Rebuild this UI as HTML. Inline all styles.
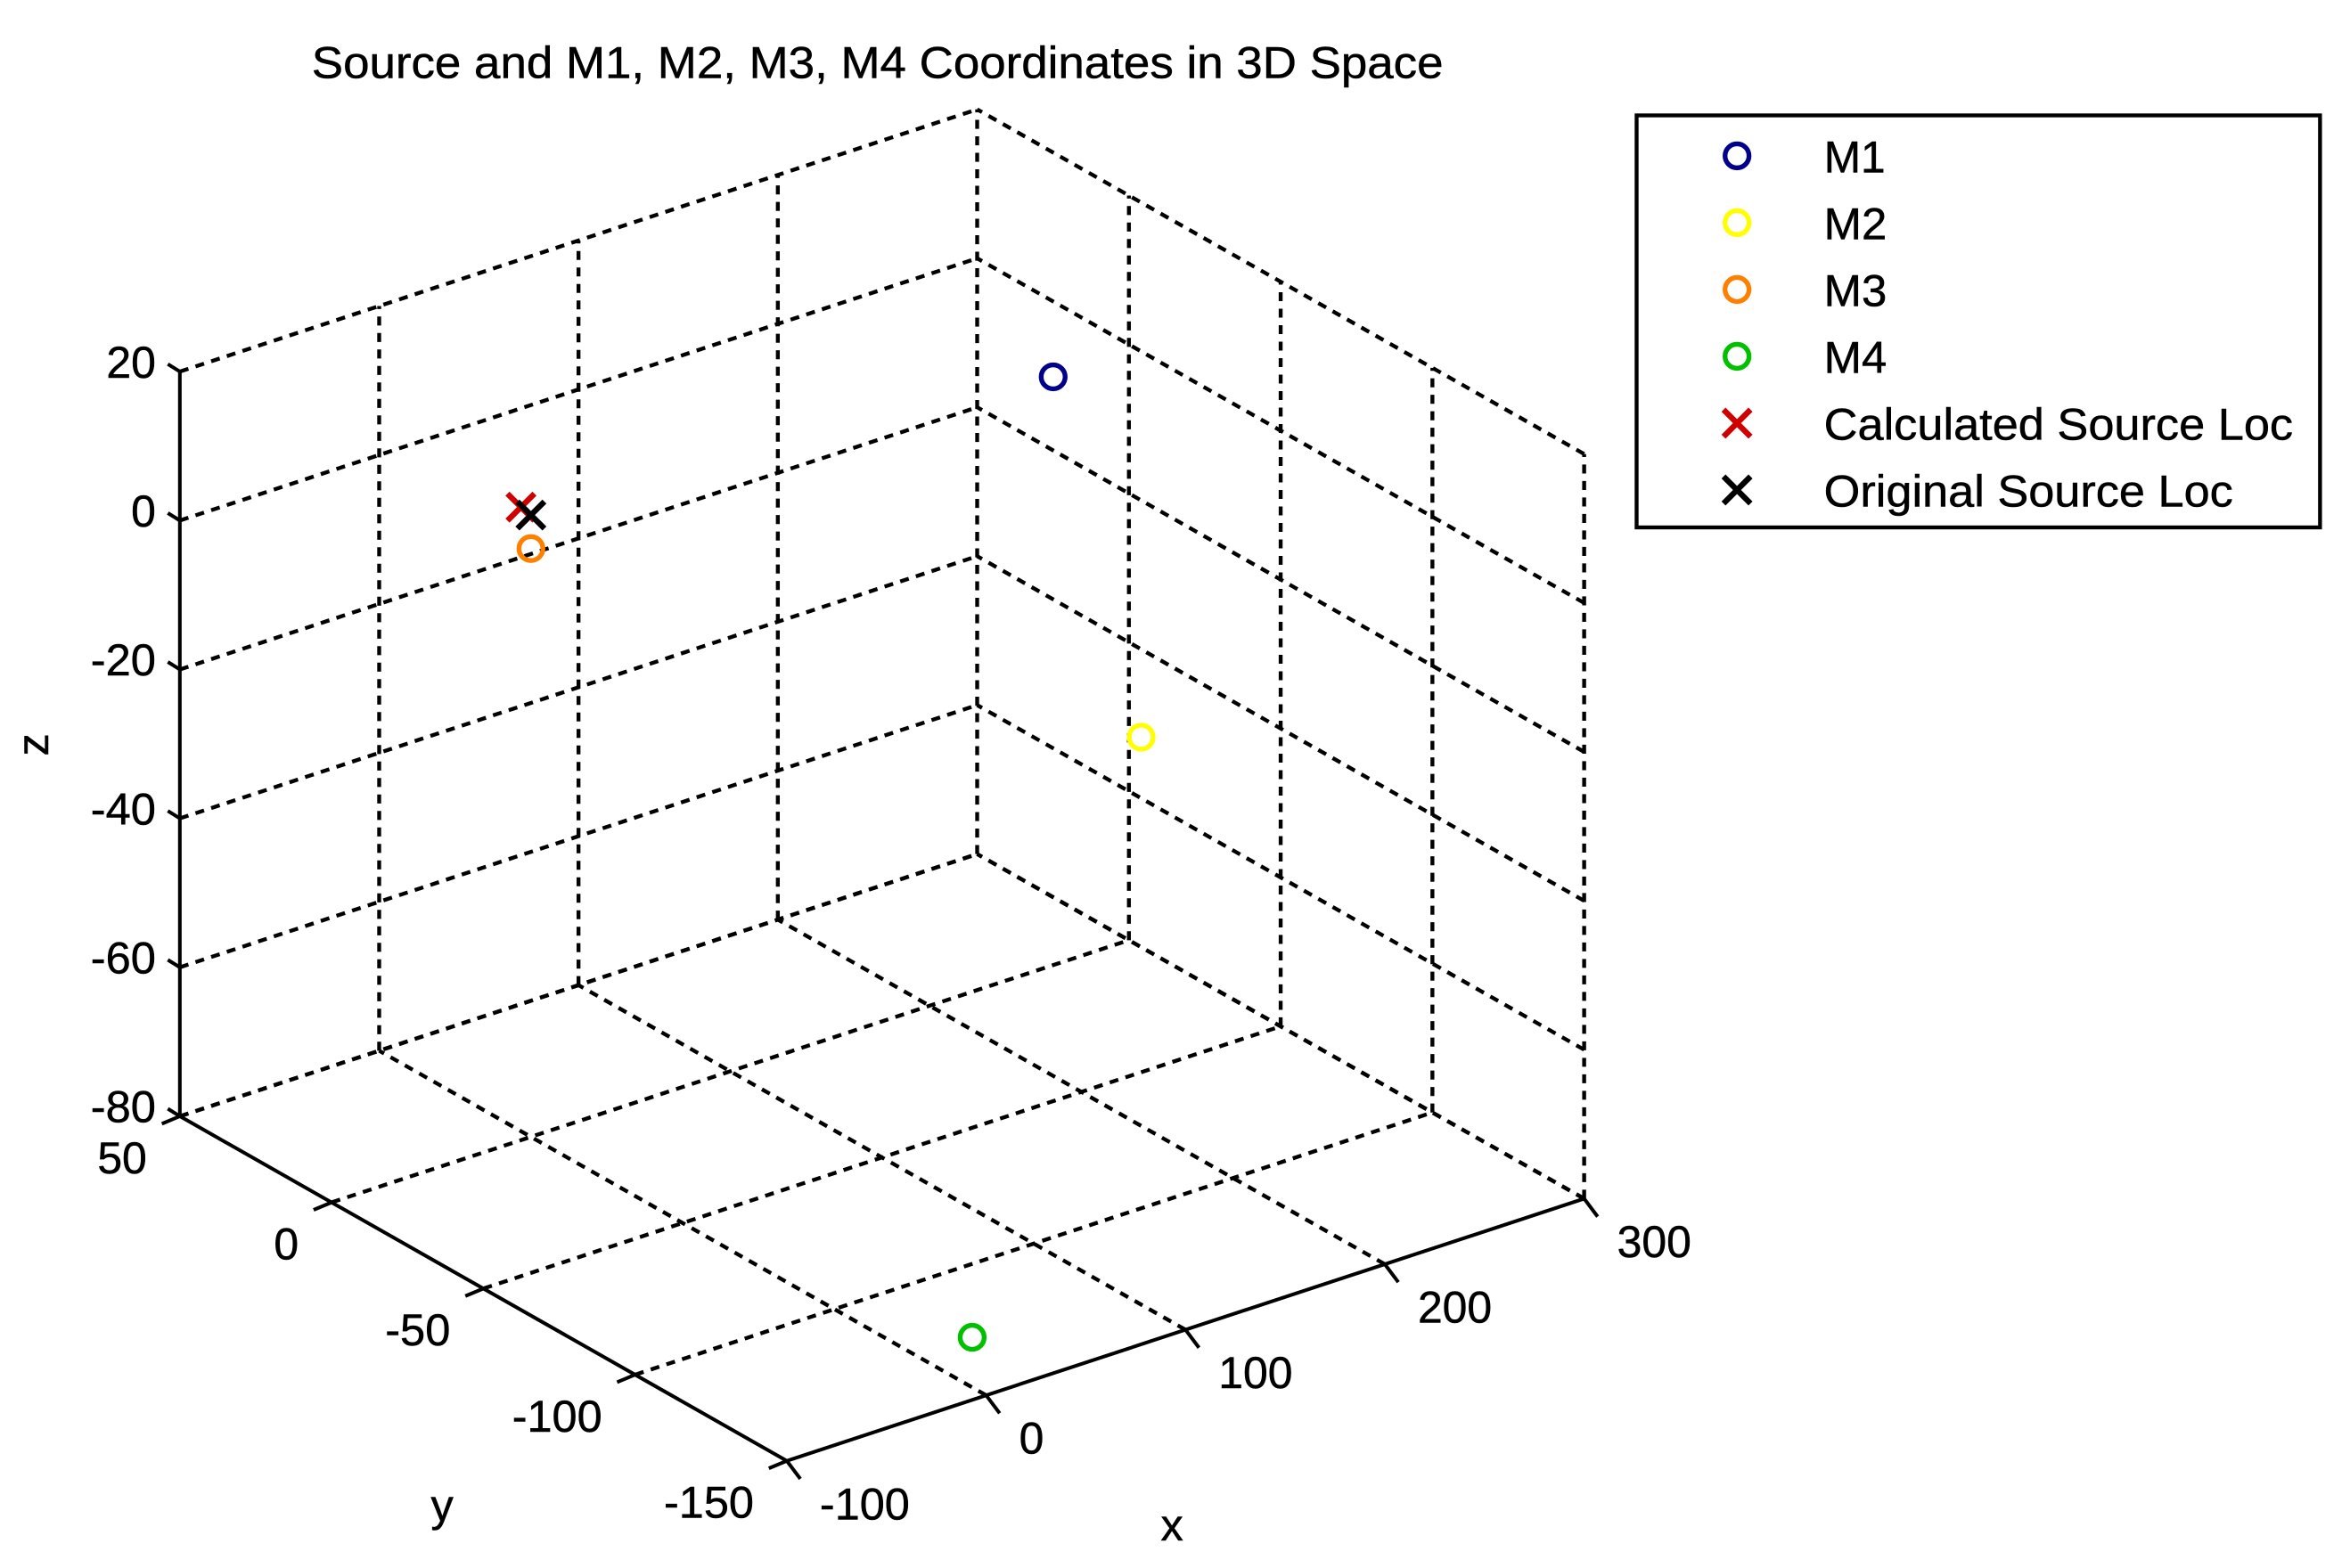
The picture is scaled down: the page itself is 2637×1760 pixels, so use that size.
<!DOCTYPE html>
<html><head><meta charset="utf-8"><title>Source and M1, M2, M3, M4 Coordinates in 3D Space</title>
<style>html,body{margin:0;padding:0;background:#fff;}svg{display:block;}
text{font-family:"Liberation Sans Narrow","Liberation Sans",sans-serif;fill:#000;stroke:#000;stroke-width:0.3;}</style></head>
<body>
<svg id="chart" width="2637" height="1760" viewBox="0 0 1568 1046.5" xmlns="http://www.w3.org/2000/svg">
<rect width="1568" height="1046.5" fill="#fff"/>
<g id="grid"></g>
<g id="axes"></g>
<g id="marks"></g>
<text x="208" y="52" font-size="30" textLength="755" lengthAdjust="spacingAndGlyphs">Source and M1, M2, M3, M4 Coordinates in 3D Space</text>
<text x="0" y="0" font-size="30" text-anchor="middle" transform="translate(32,497) rotate(-90)">z</text>
<text x="295" y="1015" font-size="30" text-anchor="middle">y</text>
<text x="782" y="1028" font-size="30" text-anchor="middle">x</text>
<g id="legend"></g>
</svg>
<script>
const xTicks=[-100,0,100,200,300];
const yTicks=[-150,-100,-50,0,50];
const zTicks=[-80,-60,-40,-20,0,20];
const seriesNames=["M1","M2","M3","M4","Calculated Source Loc","Original Source Loc"];
const seriesX=[262,230,0,28,-5,0];
const seriesY=[0,-50,0,-127,0,0];
const seriesZ=[-1,-35,-1,-80,5,3.5];
const seriesColors=["#00008b","#ffff00","#ff8000","#00c000","#d00000","#000000"];
const seriesMarkers=["o","o","o","o","x","x"];

const NS="http://www.w3.org/2000/svg";
function P(x,y,z){return [525+1.33*(x+100)-2.025*(y+150), 975-0.4375*(x+100)-1.15*(y+150)-4.97*(z+80)];}
function mk(tag,attrs,parent){const e=document.createElementNS(NS,tag);for(const k in attrs)e.setAttribute(k,attrs[k]);parent.appendChild(e);return e;}
const grid=document.getElementById('grid'),axes=document.getElementById('axes'),marks=document.getElementById('marks'),legend=document.getElementById('legend');
function line(a,b,dashed,parent,name){const l=mk('line',{x1:a[0],y1:a[1],x2:b[0],y2:b[1],stroke:'#000','stroke-width':dashed?2.6:2.4,'stroke-dasharray':dashed?'6,5':'none'},parent);

return l;}
const x0=xTicks[0],x1=xTicks[xTicks.length-1],y0=yTicks[0],y1=yTicks[yTicks.length-1],z0=zTicks[0],z1=zTicks[zTicks.length-1];
xTicks.forEach(x=>{ if(x!==x0) line(P(x,y0,z0),P(x,y1,z0),true,grid,'floor-grid-x'); });
yTicks.forEach(y=>{ if(y!==y0) line(P(x0,y,z0),P(x1,y,z0),true,grid,'floor-grid-y'); });
xTicks.forEach(x=>{ if(x!==x0) line(P(x,y1,z0),P(x,y1,z1),true,grid,'wall-grid-vertical'); });
zTicks.forEach(z=>{ line(P(x0,y1,z),P(x1,y1,z),true,grid,'wall-grid-horizontal'); });
yTicks.forEach(y=>{ if(y!==y1) line(P(x1,y,z0),P(x1,y,z1),true,grid,'side-grid-vertical'); });
zTicks.forEach(z=>{ line(P(x1,y0,z),P(x1,y1,z),true,grid,'side-grid-horizontal'); });
line(P(x0,y1,z0),P(x0,y1,z1),false,axes,'z-axis-line');
line(P(x0,y0,z0),P(x1,y0,z0),false,axes,'x-axis-line');
line(P(x0,y0,z0),P(x0,y1,z0),false,axes,'y-axis-line');
function tl(s){return s.length*16.5-(s[0]==='-'?6:0);}
zTicks.forEach(z=>{const p=P(x0,y1,z);
 line([p[0],p[1]],[p[0]-8,p[1]-5],false,axes,'z-tick');
 const t=mk('text',{x:p[0]-16,y:p[1]+4,'font-size':30,'text-anchor':'end',textLength:tl(String(z)),lengthAdjust:'spacingAndGlyphs'},axes);
 
 
 t.textContent=z;});
xTicks.forEach(x=>{const p=P(x,y0,z0);
 line([p[0],p[1]],[p[0]+9,p[1]+12],false,axes,'x-tick');
 const t=mk('text',{x:p[0]+22,y:p[1]+39,'font-size':30,'text-anchor':'start',textLength:tl(String(x)),lengthAdjust:'spacingAndGlyphs'},axes);
 
 
 t.textContent=x;});
yTicks.forEach(y=>{const p=P(x0,y,z0);
 line([p[0],p[1]],[p[0]-12,p[1]+5],false,axes,'y-tick');
 const t=mk('text',{x:p[0]-22,y:p[1]+38,'font-size':30,'text-anchor':'end',textLength:tl(String(y)),lengthAdjust:'spacingAndGlyphs'},axes);
 
 
 t.textContent=y;});
function marker(type,cx,cy,color,parent,name){
 let e;
 if(type==='o'){e=mk('circle',{cx:cx,cy:cy,r:8,fill:'none',stroke:color,'stroke-width':3.2},parent);}
 else{e=mk('path',{d:`M${cx-9},${cy-9}L${cx+9},${cy+9}M${cx+9},${cy-9}L${cx-9},${cy+9}`,stroke:color,'stroke-width':3.8,fill:'none'},parent);}
 
 
}
for(let i=0;i<seriesNames.length;i++){const p=P(seriesX[i],seriesY[i],seriesZ[i]);
 marker(seriesMarkers[i],p[0],p[1],seriesColors[i],marks,'marker-'+seriesNames[i].toLowerCase().replace(/ /g,'-'));}
const box=mk('rect',{x:1092,y:77,width:456,height:275,fill:'#fff',stroke:'#000','stroke-width':2.6},legend);


const legW=[41,42,42,42,313,273];
for(let i=0;i<seriesNames.length;i++){const cy=104+i*44.6;
 marker(seriesMarkers[i],1159,cy,seriesColors[i],legend,'legend-marker');
 const t=mk('text',{x:1217,y:cy+11,'font-size':30,textLength:legW[i],lengthAdjust:'spacingAndGlyphs'},legend);
 
 
 t.textContent=seriesNames[i];}
</script>
</body></html>
